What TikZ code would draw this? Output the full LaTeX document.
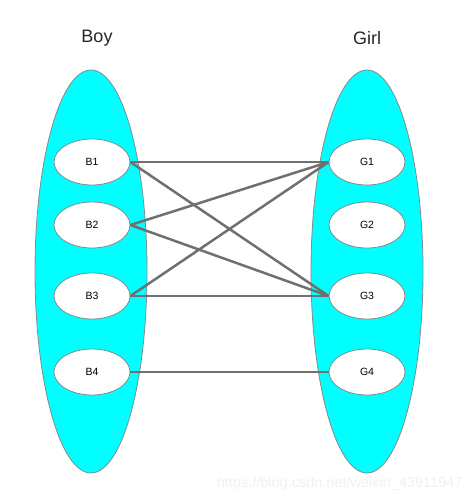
\documentclass[tikz,border=0pt]{standalone}
\usepackage{fontspec}
\setmainfont{Liberation Sans}
\usetikzlibrary{shapes.geometric}

\definecolor{setfill}{HTML}{00FFFF}
\definecolor{rim}{HTML}{7F8C8D}
\definecolor{edgegray}{HTML}{707070}

\tikzset{
  bigset/.style={ellipse,draw=rim,fill=setfill,line width=0.8pt,minimum width=112pt,minimum height=403pt,inner sep=0pt},
  member/.style={ellipse,draw=rim,fill=white,line width=0.8pt,minimum width=76pt,minimum height=46pt,inner sep=0pt,font=\fontsize{10.5}{12}\selectfont},
  link/.style={draw=edgegray,line width=2.5pt},
  title/.style={font=\fontsize{18}{20}\selectfont,text=black!85}
}

\begin{document}
\begin{tikzpicture}[x=1pt,y=-1pt]
  \useasboundingbox (0,0) rectangle (474,500);
  % the two sets
  \node[bigset] (boys) at (91,271.5) {};
  \node[bigset] (girls) at (367,271.5) {};
  \node[title] (boytitle) at (97,38) {Boy};
  \node[title] (girltitle) at (367,38) {Girl};
  % members
  \foreach \i/\y in {1/162,2/225,3/296,4/372}{
    \node[member] (b\i) at (92,\y) {B\i};
    \node[member] (g\i) at (367,\y) {G\i};
  }
  % links
  \foreach \s/\t in {1/1,1/3,2/1,2/3,3/1,3/3,4/4}
    \draw[link] (b\s.east) -- (g\t.west);
  \node[font=\fontsize{14.5}{16}\selectfont,text=black!6,anchor=east] (mark) at (466,484) {https://blog.csdn.net/weixin\_43911947};
\end{tikzpicture}
\end{document}
